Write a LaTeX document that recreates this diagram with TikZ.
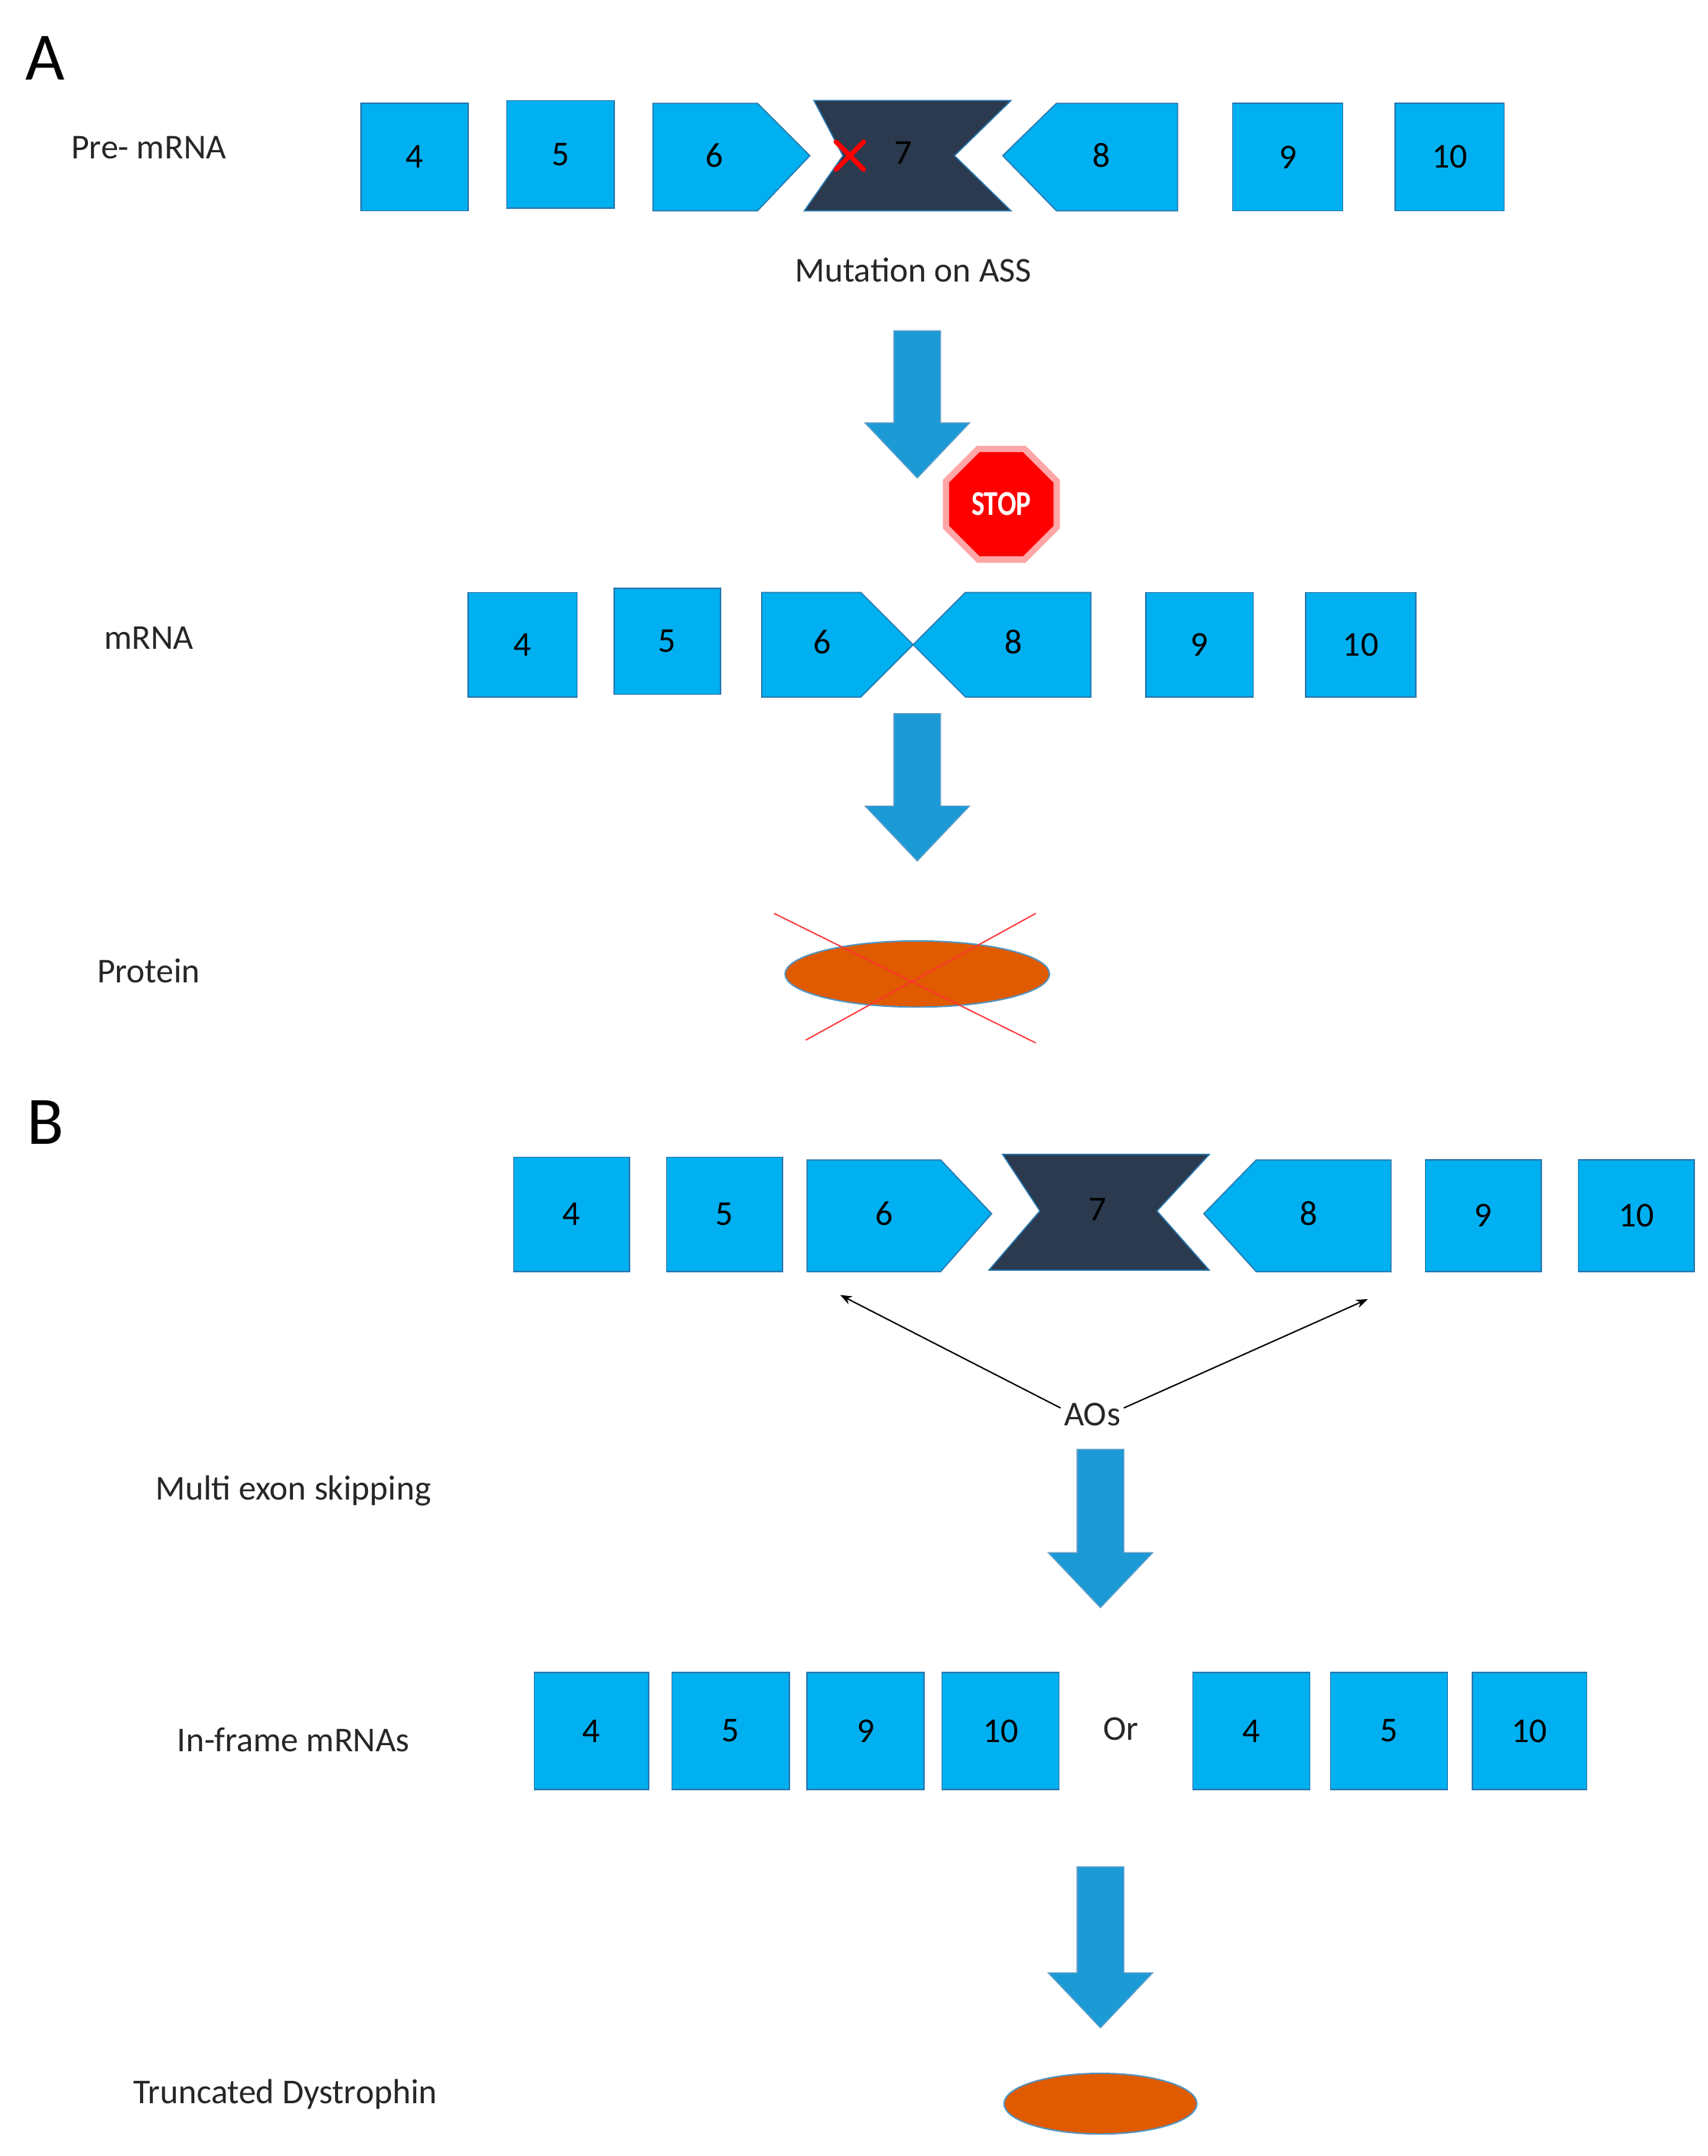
\documentclass[tikz,border=0pt]{standalone}
\usepackage{fontspec}
\setmainfont{Carlito}
\usetikzlibrary{arrows.meta}
\definecolor{exoncol}{HTML}{00B0F0}
\definecolor{exonline}{HTML}{2878B0}
\definecolor{darkexon}{HTML}{2B3A4E}
\definecolor{flowcol}{HTML}{1C9AD6}
\definecolor{protcol}{HTML}{E05A00}
\tikzset{
  exon/.style={fill=exoncol, draw=exonline, line width=1.2pt},
  skipped/.style={fill=darkexon, draw=exonline, line width=1.2pt},
  num/.style={font=\fontsize{36}{40}\selectfont, text=black},
  lbl/.style={font=\fontsize{36}{42}\selectfont, text=black!85},
  panel/.style={font=\fontsize{70}{80}\selectfont},
  flow/.style={fill=flowcol, draw=exonline!70, line width=1pt},
  prot/.style={fill=protcol, draw=exonline!80, line width=1.5pt},
}
% plain exon: left, top, right, bottom, label, name
\newcommand{\exonbox}[6]{
  \draw[exon] (#1,#2) rectangle (#3,#4);
  \node[num] (#6) at ({(#1+#3)/2},{(#2+#4)/2}) {#5};
}
% block arrow down: x centre, top, tip
\newcommand{\blockdown}[3]{
  \draw[flow] (#1-17,#2) -- (#1+17,#2) -- (#1+17,#3-40) -- (#1+38,#3-40)
    -- (#1,#3) -- (#1-38,#3-40) -- (#1-17,#3-40) -- cycle;
}
\begin{document}
\begin{tikzpicture}[x=0.05cm, y=-0.05cm]
\useasboundingbox (0,0) rectangle (1240,1565);

%panel A
\node[panel] (pA) at (33,42) {A};
\node[lbl] (preLbl) at (108,107) {Pre- mRNA};
\exonbox{262}{75}{340}{153}{4}{a4}
\exonbox{368}{73}{446}{151}{5}{a5}
\draw[exon] (474,75) -- (550,75) -- (588,113) -- (550,153) -- (474,153) -- cycle;
\node[num] (a6) at (519,113) {6};
\draw[skipped] (591,73) -- (734,73) -- (693,113) -- (734,153) -- (584,153) -- (612,113) -- cycle;
\node[num] (a7) at (656,111) {7};
\draw[red, line width=5pt, line cap=round] (607,103) -- (627,123) (607,123) -- (627,103);
\draw[exon] (767,75) -- (855,75) -- (855,153) -- (767,153) -- (728,113) -- cycle;
\node[num] (a8) at (800,113) {8};
\exonbox{895}{75}{975}{153}{9}{a9}
\exonbox{1013}{75}{1092}{153}{10}{a10}
\node[lbl] (mutLbl) at (663,196) {Mutation on ASS};

\blockdown{666}{240}{347}
%stop sign
\fill[red!35] (727,366) +(22.5:46) -- +(67.5:46) -- +(112.5:46) -- +(157.5:46)
  -- +(202.5:46) -- +(247.5:46) -- +(292.5:46) -- +(337.5:46) -- cycle;
\fill[red] (727,366) +(22.5:41) -- +(67.5:41) -- +(112.5:41) -- +(157.5:41)
  -- +(202.5:41) -- +(247.5:41) -- +(292.5:41) -- +(337.5:41) -- cycle;
\node[font=\fontsize{36}{40}\selectfont\bfseries, text=white, xscale=0.8] (stop) at (727,366) {STOP};

\node[lbl] (mLbl) at (108,463) {mRNA};
\exonbox{340}{430}{419}{506}{4}{m4}
\exonbox{446}{427}{523}{504}{5}{m5}
\draw[exon] (553,430) -- (625,430) -- (663,468) -- (625,506) -- (553,506) -- cycle;
\node[num] (m6) at (597,466) {6};
\draw[exon] (701,430) -- (792,430) -- (792,506) -- (701,506) -- (663,468) -- cycle;
\node[num] (m8) at (736,466) {8};
\exonbox{832}{430}{910}{506}{9}{m9}
\exonbox{948}{430}{1028}{506}{10}{m10}

\blockdown{666}{518}{625}

\node[lbl] (pLbl) at (108,705) {Protein};
\draw[prot] (666,707) ellipse [x radius=96, y radius=24];
\draw[red!80, line width=1.3pt] (562,663) -- (752,757) (585,755) -- (752,663);

%panel B
\node[panel] (pB) at (33,815) {B};
\exonbox{373}{840}{457}{923}{4}{b4}
\exonbox{484}{840}{568}{923}{5}{b5}
\draw[exon] (586,842) -- (683,842) -- (720,881) -- (683,923) -- (586,923) -- cycle;
\node[num] (b6) at (642,881) {6};
\draw[skipped] (728,838) -- (878,838) -- (840,879) -- (878,922) -- (718,922) -- (755,879) -- cycle;
\node[num] (b7) at (797,878) {7};
\draw[exon] (912,842) -- (1010,842) -- (1010,923) -- (912,923) -- (874,881) -- cycle;
\node[num] (b8) at (950,881) {8};
\exonbox{1035}{842}{1119}{923}{9}{b9}
\exonbox{1146}{842}{1230}{923}{10}{b10}

\node[lbl] (aos) at (793,1027) {AOs};
\coordinate (hit6) at (610,940);
\coordinate (hit8) at (993,943);
\draw[-{Stealth[length=12pt, width=9pt]}, line width=1.4pt] (aos.west) ++(0,-5) -- (hit6);
\draw[-{Stealth[length=12pt, width=9pt]}, line width=1.4pt] (aos.east) ++(0,-5) -- (hit8);

\node[lbl] (skipLbl) at (213,1082) {Multi exon skipping};
\blockdown{799}{1052}{1167}

\node[lbl] (ifLbl) at (213,1263) {In-frame mRNAs};
\exonbox{388}{1214}{471}{1299}{4}{c4}
\exonbox{488}{1214}{573}{1299}{5}{c5}
\exonbox{586}{1214}{671}{1299}{9}{c9}
\exonbox{684}{1214}{769}{1299}{10}{c10}
\node[lbl] (orLbl) at (814,1255) {Or};
\exonbox{866}{1214}{951}{1299}{4}{d4}
\exonbox{966}{1214}{1051}{1299}{5}{d5}
\exonbox{1069}{1214}{1152}{1299}{10}{d10}

\blockdown{799}{1355}{1472}

\node[lbl] (tLbl) at (207,1520) {Truncated Dystrophin};
\draw[prot] (799,1527) ellipse [x radius=70, y radius=22];
\end{tikzpicture}
\end{document}
